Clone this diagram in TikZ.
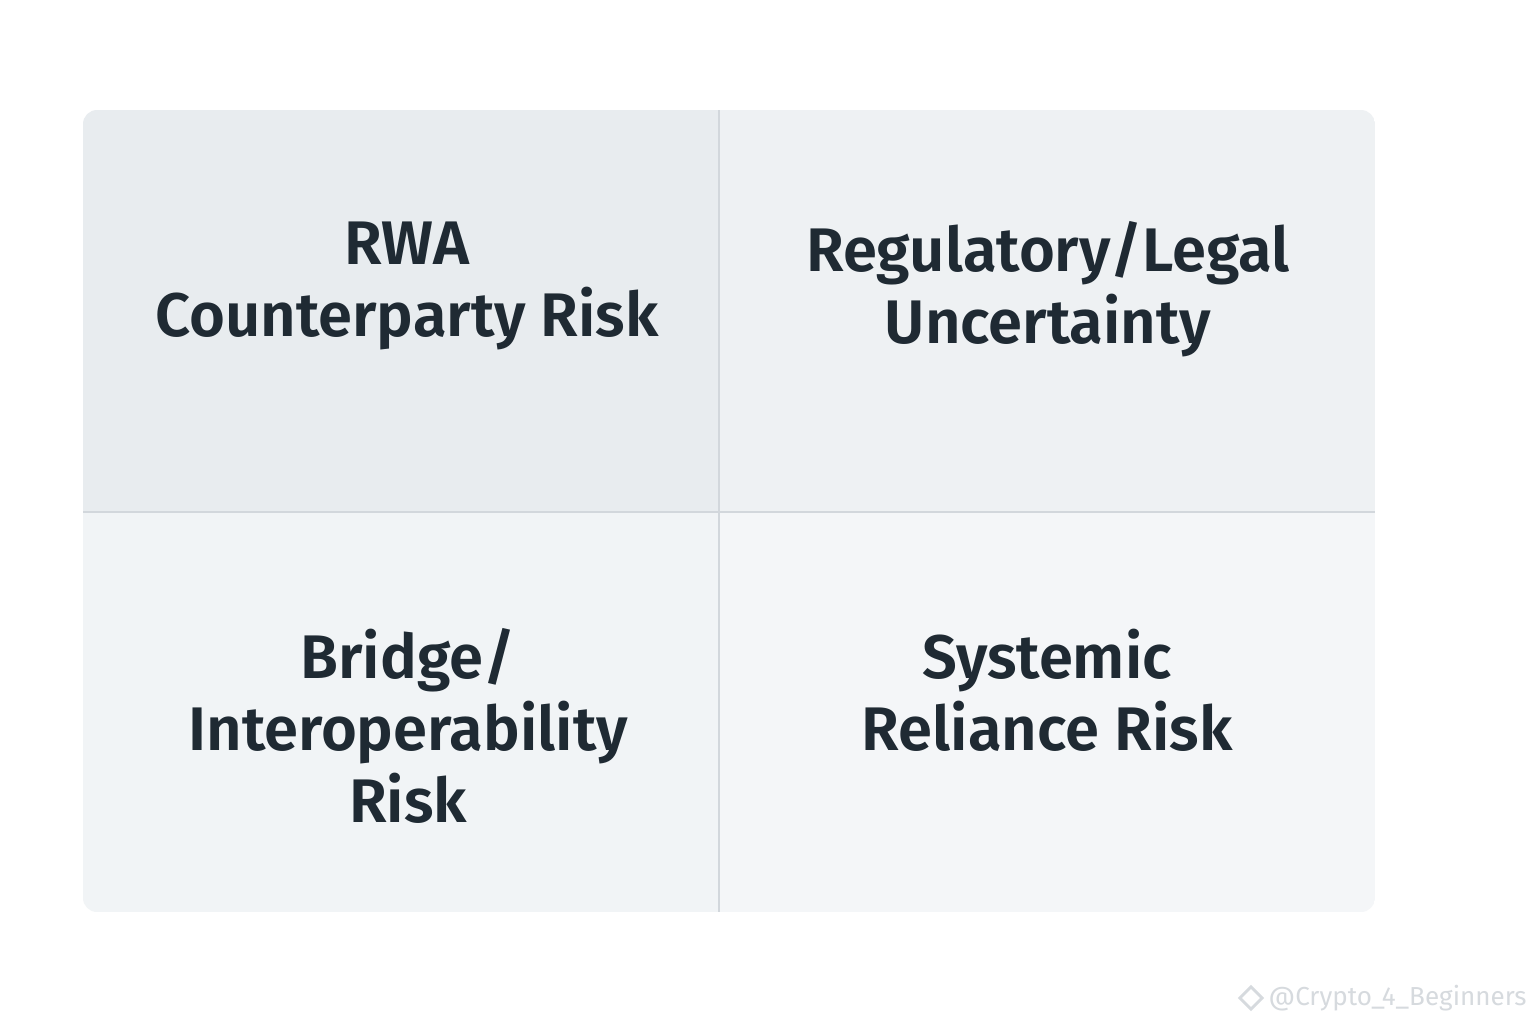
\documentclass[tikz,border=0pt]{standalone}
\usepackage{fontspec}
\setmainfont{Fira Sans}[BoldFont={Fira Sans SemiBold}]
\usepackage{tikz}

\definecolor{cellA}{HTML}{E8ECEF}
\definecolor{cellB}{HTML}{EEF1F3}
\definecolor{cellC}{HTML}{F1F4F6}
\definecolor{cellD}{HTML}{F4F6F8}
\definecolor{gridline}{HTML}{D2D7DC}
\definecolor{inkdark}{HTML}{1F2A33}
\definecolor{markgray}{HTML}{D6DADE}

\begin{document}
\begin{tikzpicture}[
  x=0.01cm, y=-0.01cm,
  label/.style={font=\bfseries\fontsize{17.5}{20.5}\selectfont,text=inkdark,align=center,inner sep=0pt,anchor=north},
  divider/.style={draw=gridline,line width=0.7pt},
  watermark/.style={font=\fontsize{7.4}{8.5}\selectfont,text=markgray,inner sep=0pt,anchor=west}]

  % Page and outer frame
  \useasboundingbox[fill=white] (0,0) rectangle (1536,1024);
  \begin{scope}
    \clip[rounded corners=4pt] (83,110) rectangle (1375,912);
    \fill[cellA] (83,110) rectangle (719,512);
    \fill[cellB] (719,110) rectangle (1375,512);
    \fill[cellC] (83,512) rectangle (719,912);
    \fill[cellD] (719,512) rectangle (1375,912);
  \end{scope}

  % Grid lines
  \coordinate (top) at (719,110);
  \coordinate (bottom) at (719,912);
  \coordinate (left) at (83,512);
  \coordinate (right) at (1375,512);
  \draw[divider] (top) -- (bottom);
  \draw[divider] (left) -- (right);

  % Quadrant labels
  \node[label] (rwa) at (407,221) {RWA\\Counterparty Risk};
  \node[label] (legal) at (1048,221) {Regulatory/Legal\\Uncertainty};
  \node[label] (bridge) at (408,628) {Bridge/\\Interoperability\\Risk};
  \node[label] (systemic) at (1047,628) {Systemic\\Reliance Risk};

  % Watermark
  \node[draw=markgray,line width=0.8pt,minimum size=4.5pt,rotate=45,inner sep=0pt] (logo) at (1251,998) {};
  \node[watermark] (credit) at (1268,998) {@Crypto\_4\_Beginners};
\end{tikzpicture}
\end{document}
